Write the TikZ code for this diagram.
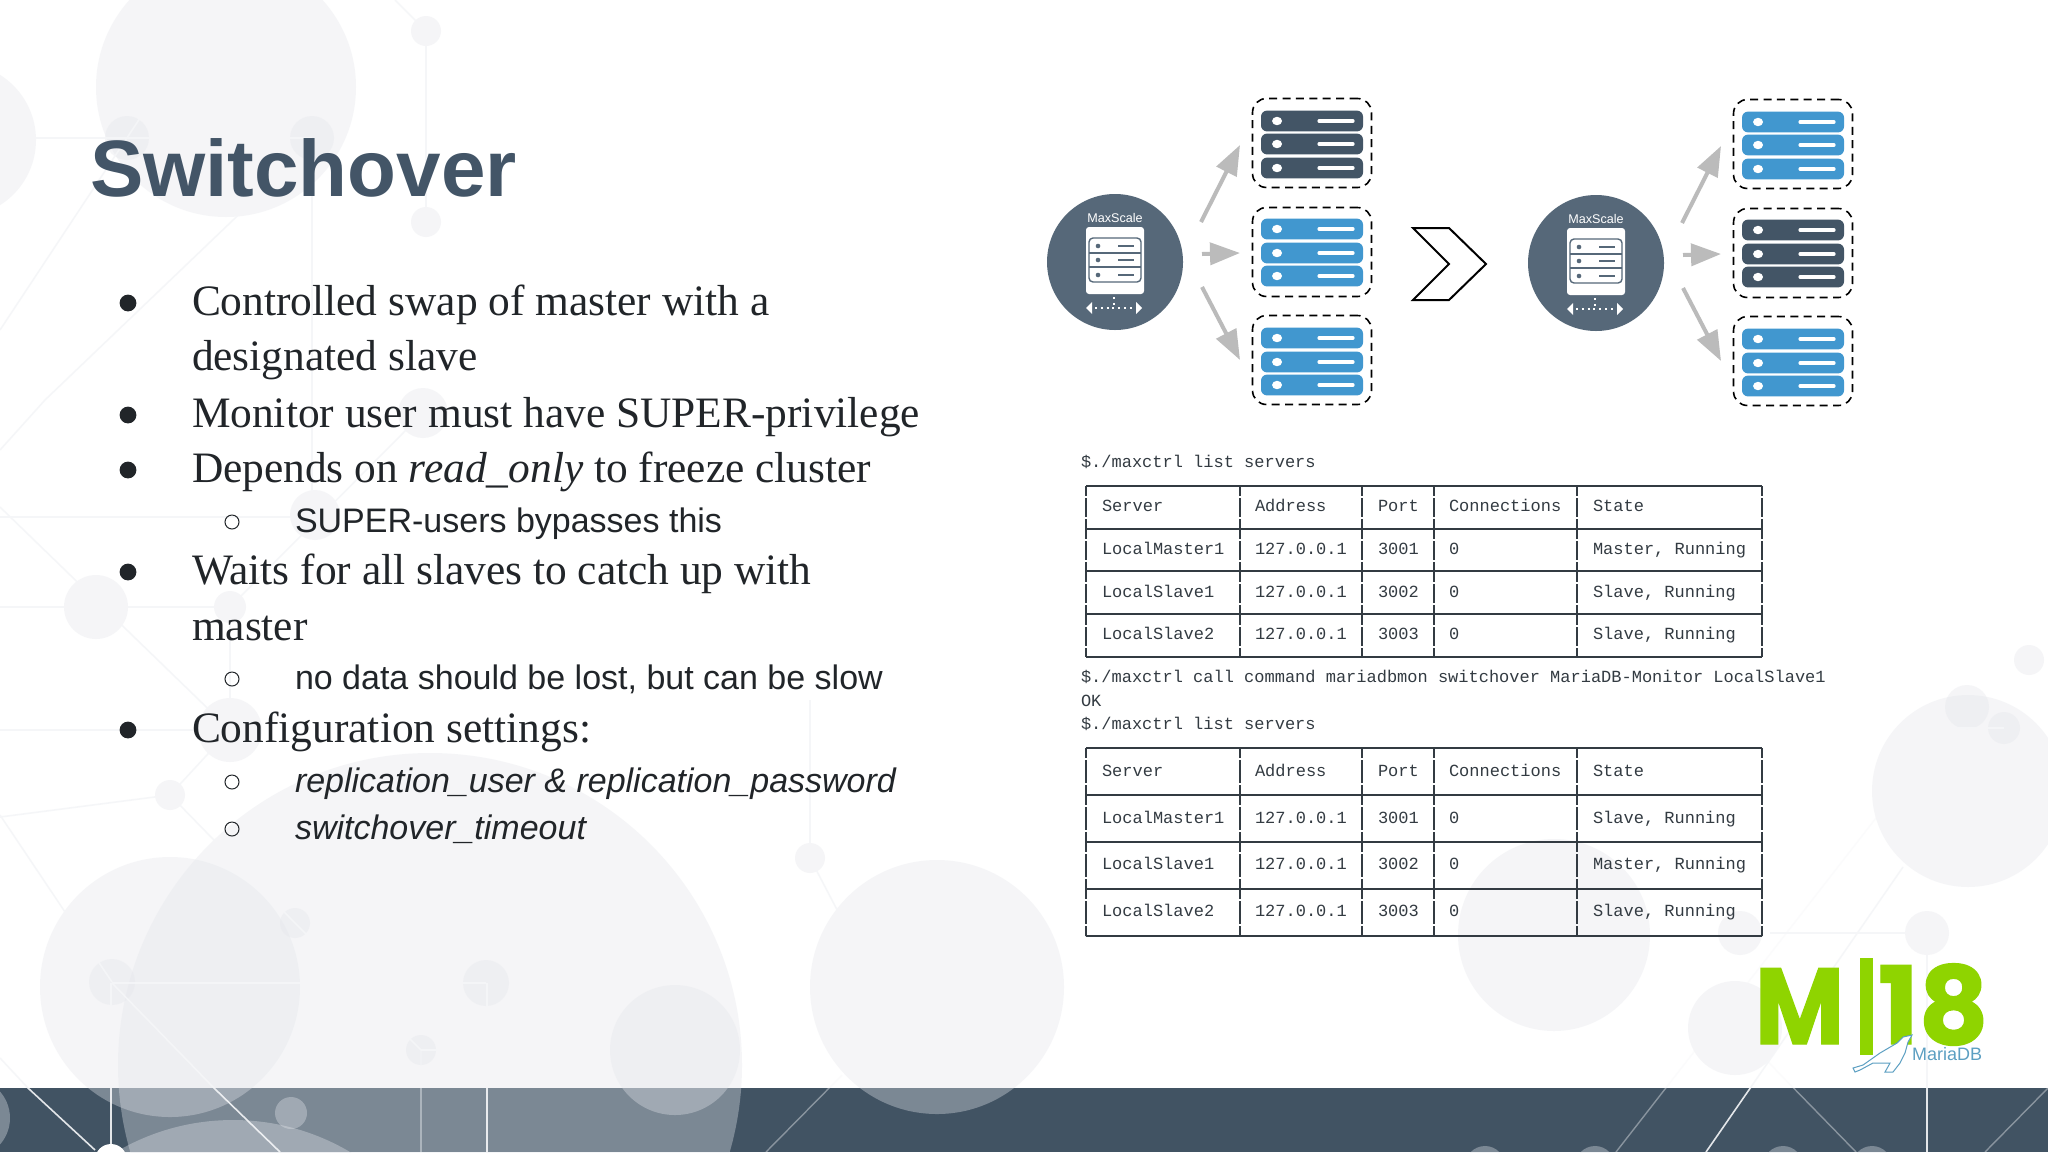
\documentclass[tikz,border=0pt]{standalone}
\usepackage{fontspec}
\setmainfont{Liberation Serif}
\setsansfont{Liberation Sans}
\setmonofont{Liberation Mono}
\newfontfamily\logofont{Poppins}[FakeBold=1.2]
\usetikzlibrary{arrows.meta}
\definecolor{bandcol}{HTML}{415363}
\definecolor{titlecol}{HTML}{435567}
\definecolor{inkcol}{HTML}{212529}
\definecolor{bubcol}{HTML}{E4E6EB}
\definecolor{netcol}{HTML}{F5F6F8}
\definecolor{maxcol}{HTML}{566879}
\definecolor{darkrack}{HTML}{435566}
\definecolor{bluerack}{HTML}{4197CF}
\definecolor{arrowcol}{HTML}{BBBBBB}
\definecolor{rulecol}{HTML}{333B42}
\definecolor{logocol}{HTML}{8FD400}
\definecolor{sealcol}{HTML}{5C9FC2}
\newcommand{\bigitem}[3]{
    \fill [inkcol] (128,#2-12) circle (8.4);
    \node [bigtext] (#1) at (192,#2) {#3};}
\newcommand{\contline}[3]{\node [bigtext] (#1) at (192,#2) {#3};}
\newcommand{\minoritem}[3]{
    \draw [inkcol, line width=0.5pt] (232,#2-10) circle (7);
    \node [smalltext] (#1) at (295,#2) {#3};}
\newcommand{\rack}[4]{
    \begin{scope}[shift={(#2,#3)}]
    \node [rackbox, fill=#4] (#1) at (0,0) {};
    \fill [white] (-35,0) ellipse (5 and 4.2);
    \draw [white, line width=1.6pt, line cap=round] (7,0) -- (41,0);
    \end{scope}}
\newcommand{\cluster}[6]{
    \begin{scope}[shift={(#2,#3)}]
    \node [mxsdisc] (#1mxs) at (1115,262) {};
    \node [mxstext] (#1lab) at (1115,218) {MaxScale};
    \fill [white, rounded corners=1.5pt] (1086,227) rectangle (1144,294);
    \draw [maxcol, line width=0.7pt, rounded corners=2pt] (1089,238) rectangle (1141,282);
    \draw [maxcol, line width=0.7pt] (1089,253) -- (1141,253);
    \draw [maxcol, line width=0.7pt] (1089,267) -- (1141,267);
    \fill [maxcol] (1098,246) circle (2.3);
    \fill [maxcol] (1098,260) circle (2.3);
    \fill [maxcol] (1098,275) circle (2.3);
    \draw [maxcol, line width=0.8pt] (1118,246) -- (1134,246);
    \draw [maxcol, line width=0.8pt] (1118,260) -- (1134,260);
    \draw [maxcol, line width=0.8pt] (1118,275) -- (1134,275);
    \draw [white, line width=0.9pt, dash pattern=on 1pt off 1.9pt] (1095,308) -- (1133,308);
    \draw [white, line width=0.9pt, dash pattern=on 1pt off 1.9pt] (1114,297) -- (1114,308);
    \fill [white] (1086,308) -- (1092,302) -- (1092,314);
    \fill [white] (1142,308) -- (1136,302) -- (1136,314);
    \node [rackframe] (#1top) at (1312,143) {};
    \node [rackframe] (#1mid) at (1312,252) {};
    \node [rackframe] (#1low) at (1312,360) {};
    \rack{#1topa}{1312}{121}{#4}
    \rack{#1topb}{1312}{144}{#4}
    \rack{#1topc}{1312}{168}{#4}
    \rack{#1mida}{1312}{229}{#5}
    \rack{#1midb}{1312}{253}{#5}
    \rack{#1midc}{1312}{276}{#5}
    \rack{#1lowa}{1312}{338}{#6}
    \rack{#1lowb}{1312}{362}{#6}
    \rack{#1lowc}{1312}{385}{#6}
    \coordinate (#1sa) at (1201,222);
    \coordinate (#1ea) at (1240,145);
    \coordinate (#1sb) at (1202,254);
    \coordinate (#1eb) at (1240,253);
    \coordinate (#1sc) at (1202,287);
    \coordinate (#1ec) at (1240,360);
    \draw [flowarrow] (#1sa) -- (#1ea);
    \draw [flowarrow] (#1sb) -- (#1eb);
    \draw [flowarrow] (#1sc) -- (#1ec);
    \end{scope}}
\newcommand{\tabgrid}[6]{
    \draw [hrule] (1086,#1) -- (1762,#1);
    \draw [hrule] (1086,#2) -- (1762,#2);
    \draw [hrule] (1086,#3) -- (1762,#3);
    \draw [hrule] (1086,#4) -- (1762,#4);
    \draw [hrule] (1086,#5) -- (1762,#5);
    \draw [vrule, dash pattern=on 5pt off 1pt on #6 off 1pt on 5pt off 0pt] (1086,#1) -- (1086,#5);
    \draw [vrule, dash pattern=on 5pt off 1pt on #6 off 1pt on 5pt off 0pt] (1240,#1) -- (1240,#5);
    \draw [vrule, dash pattern=on 5pt off 1pt on #6 off 1pt on 5pt off 0pt] (1362,#1) -- (1362,#5);
    \draw [vrule, dash pattern=on 5pt off 1pt on #6 off 1pt on 5pt off 0pt] (1434,#1) -- (1434,#5);
    \draw [vrule, dash pattern=on 5pt off 1pt on #6 off 1pt on 5pt off 0pt] (1577,#1) -- (1577,#5);
    \draw [vrule, dash pattern=on 5pt off 1pt on #6 off 1pt on 5pt off 0pt] (1762,#1) -- (1762,#5);}
\newcommand{\tabrow}[7]{
    \node [cell] (#1a) at (1102,#2) {#3};
    \node [cell] (#1b) at (1255,#2) {#4};
    \node [cell] (#1c) at (1378,#2) {#5};
    \node [cell] (#1d) at (1449,#2) {#6};
    \node [cell] (#1e) at (1593,#2) {#7};}
\begin{document}
\begin{tikzpicture}[x=0.5pt,y=-0.5pt]
    \tikzstyle{every node}+=[inner sep=0pt, outer sep=0pt]
    \tikzstyle{bub}=[fill=bubcol, fill opacity=0.36]
    \tikzstyle{netline}=[draw=netcol, draw opacity=0.9, line width=0.8pt]
    \tikzstyle{softline}=[draw=netcol, draw opacity=0.4, line width=0.7pt]
    \tikzstyle{titletext}=[anchor=base west, text=titlecol, font=\sffamily\bfseries\fontsize{40}{48}\selectfont]
    \tikzstyle{bigtext}=[anchor=base west, text=inkcol, font=\fontsize{21.7}{26}\selectfont]
    \tikzstyle{smalltext}=[anchor=base west, text=inkcol, font=\sffamily\fontsize{17}{20}\selectfont]
    \tikzstyle{cell}=[anchor=base west, text=rulecol, font=\ttfamily\fontsize{8.5}{10}\selectfont]
    \tikzstyle{hrule}=[rulecol, line width=0.8pt]
    \tikzstyle{vrule}=[rulecol, line width=0.7pt]
    \tikzstyle{mxsdisc}=[circle, fill=maxcol, minimum size=68pt]
    \tikzstyle{mxstext}=[text=white, font=\sffamily\fontsize{6.3}{7}\selectfont]
    \tikzstyle{rackbox}=[rectangle, rounded corners=3pt, minimum width=51pt, minimum height=10.4pt]
    \tikzstyle{rackframe}=[rectangle, draw=black, line width=0.8pt, dash pattern=on 4pt off 2.7pt, rounded corners=7pt, minimum width=59.5pt, minimum height=44.5pt]
    \tikzstyle{flowarrow}=[arrowcol, line width=2pt, -{Triangle[length=15pt, width=11pt]}]
    \tikzstyle{logotext}=[anchor=base west, text=logocol, font=\logofont\bfseries\fontsize{54}{60}\selectfont]
    \useasboundingbox (0,0) rectangle (2048,1152);
    \fill [white] (0,0) rectangle (2048,1152);
    \fill [bandcol] (0,1088) rectangle (2048,1152);
    \fill [bub] (226,87) circle (130);
    \fill [bub] (-41,140) circle (77);
    \fill [bub] (127,138) circle (22);
    \fill [bub] (312,138) circle (22);
    \fill [bub] (426,31) circle (15);
    \fill [bub] (426,222) circle (15);
    \fill [bub] (96,607) circle (32);
    \fill [bub] (230,607) circle (16);
    \fill [bub] (230,730) circle (32);
    \fill [bub] (170,795) circle (15);
    \fill [bub] (315,515) circle (25);
    \fill [bub] (423,413) circle (25);
    \fill [bub] (170,987) circle (130);
    \fill [bub] (430,1065) circle (312);
    \fill [bub] (675,1050) circle (65);
    \fill [bub] (937,987) circle (127);
    \fill [bub] (112,982) circle (23);
    \fill [bub] (486,983) circle (23);
    \fill [bub] (421,1050) circle (15);
    \fill [bub] (295,923) circle (15);
    \fill [bub] (810,858) circle (15);
    \fill [bub] (291,1113) circle (16);
    \fill [bub] (233,1350) circle (230);
    \fill [bub] (-30,1118) circle (40);
    \fill [bub] (1968,791) circle (96);
    \fill [bub] (1967,707) circle (22);
    \fill [bub] (2004,728) circle (16);
    \fill [bub] (2029,660) circle (15);
    \fill [bub] (1735,1028) circle (47);
    \fill [bub] (1927,933) circle (22);
    \fill [bub] (1740,933) circle (22);
    \fill [bub] (1554,935) circle (96);
    \fill [bub] (1485,1166) circle (20);
    \fill [bub] (1595,1166) circle (20);
    \fill [bub] (1783,1166) circle (20);
    \fill [bub] (1872,1166) circle (20);
    \draw [netline] (36,138) -- (312,138);
    \draw [netline] (426,31) -- (426,222);
    \draw [netline] (426,31) -- (395,0);
    \draw [netline] (268,0) -- (152,100) -- (0,330);
    \draw [netline] (254,200) -- (45,400) -- (0,450);
    \draw [netline] (312,138) -- (312,515);
    \draw [netline] (0,517) -- (315,517);
    \draw [netline] (0,607) -- (230,607);
    \draw [netline] (0,730) -- (230,730);
    \draw [netline] (0,507) -- (230,730);
    \draw [netline] (423,413) -- (230,607);
    \draw [netline] (230,607) -- (230,730);
    \draw [netline] (230,730) -- (170,795) -- (0,817);
    \draw [netline] (0,815) -- (112,982);
    \draw [netline] (170,795) -- (295,923) -- (421,1050);
    \draw [netline] (112,983) -- (486,983);
    \draw [netline] (421,1050) -- (610,1050);
    \draw [netline] (111,983) -- (111,1152);
    \draw [netline] (487,983) -- (487,1152);
    \draw [netline] (112,983) -- (214,1088) -- (280,1152);
    \draw [netline] (0,1058) -- (28,1088) -- (95,1150);
    \draw [netline] (1903,867) -- (1706,1152);
    \draw [netline] (1927,933) -- (1927,1152);
    \draw [netline] (1770,933) -- (1927,933);
    \draw [netline] (1930,728) -- (2004,728);
    \draw [netline] (810,700) -- (810,858) -- (845,925);
    \draw [softline] (421,1050) -- (421,1152);
    \draw [softline] (842,1075) -- (766,1152);
    \draw [softline] (1946,728) -- (1616,1152);
    \draw [softline] (1735,1028) -- (1856,1152);
    \draw [softline] (2048,1088) -- (1985,1152);
    \fill [white] (111,1160) circle (16);
    \node [titletext] (title) at (90,196) {Switchover};
    \bigitem{itema}{315}{Controlled swap of master with a}
    \contline{itemb}{370}{designated slave}
    \bigitem{itemc}{427}{Monitor user must have SUPER-privilege}
    \bigitem{itemd}{482}{Depends on \textit{read\_only} to freeze cluster}
    \minoritem{sube}{532}{SUPER-users bypasses this}
    \bigitem{itemf}{584}{Waits for all slaves to catch up with}
    \contline{itemg}{640}{master}
    \minoritem{subh}{689}{no data should be lost, but can be slow}
    \bigitem{itemi}{742}{Configuration settings:}
    \minoritem{subj}{792}{\textit{replication\_user \& replication\_password}}
    \minoritem{subk}{839}{\textit{switchover\_timeout}}
    \cluster{left}{0}{0}{darkrack}{bluerack}{bluerack}
    \cluster{right}{481}{1}{bluerack}{darkrack}{bluerack}
    \fill [white, draw=black, line width=1pt] (1413,228) -- (1449,228) -- (1486,264) -- (1449,300) -- (1413,300) -- (1449,264) -- cycle;
    \node [cell] (cmda) at (1081,467) {\$./maxctrl list servers};
    \tabgrid{486}{529}{571}{614}{657}{9.5pt}
    \tabrow{ah}{511}{Server}{Address}{Port}{Connections}{State}
    \tabrow{aa}{554}{LocalMaster1}{127.0.0.1}{3001}{0}{Master, Running}
    \tabrow{ab}{597}{LocalSlave1}{127.0.0.1}{3002}{0}{Slave, Running}
    \tabrow{ac}{639}{LocalSlave2}{127.0.0.1}{3003}{0}{Slave, Running}
    \node [cell] (cmdb) at (1081,682) {\$./maxctrl call command mariadbmon switchover MariaDB-Monitor LocalSlave1};
    \node [cell] (cmdc) at (1081,706) {OK};
    \node [cell] (cmdd) at (1081,729) {\$./maxctrl list servers};
    \tabgrid{748}{795}{842}{889}{936}{11.5pt}
    \tabrow{bh}{776}{Server}{Address}{Port}{Connections}{State}
    \tabrow{ba}{823}{LocalMaster1}{127.0.0.1}{3001}{0}{Slave, Running}
    \tabrow{bb}{869}{LocalSlave1}{127.0.0.1}{3002}{0}{Master, Running}
    \tabrow{bc}{916}{LocalSlave2}{127.0.0.1}{3003}{0}{Slave, Running}
    \node [logotext, xscale=0.9] (logom) at (1755,1044) {M};
    \fill [logocol] (1860,958) rectangle (1873,1055);
    \node [logotext] (logon) at (1878,1044) {18};
    \fill [white, draw=sealcol, line width=0.5pt] (1853,1068) -- (1863,1065) -- (1880,1053) -- (1897,1043) -- (1903,1037) -- (1912,1035) -- (1908,1042) -- (1905,1053) -- (1900,1063) -- (1893,1072) -- (1885,1072) -- (1890,1063) -- (1873,1063) -- (1860,1070) -- (1855,1072) -- cycle;
    \node [anchor=base west, text=sealcol, font=\sffamily\fontsize{9}{10}\selectfont] (logodb) at (1912,1060) {MariaDB};
\end{tikzpicture}
\end{document}
